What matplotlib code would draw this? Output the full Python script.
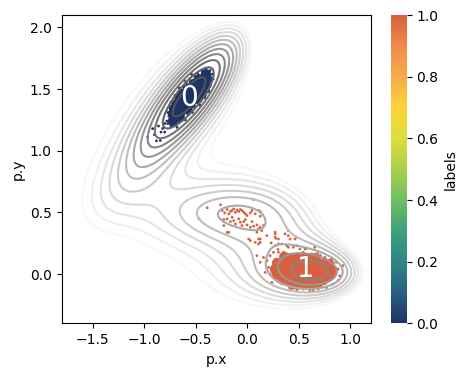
import numpy as np
import matplotlib.pyplot as plt
from matplotlib.colors import LinearSegmentedColormap

# Mueller-Brown potential parameters (background surface)
mb_A = [-200, -100, -170, 15]
mb_a = [-1, -1, -6.5, 0.7]
mb_b = [0, 0, 11, 0.6]
mb_c = [-10, -10, -6.5, 0.7]
mb_x0 = [1, 0, -0.5, -1]
mb_y0 = [0, 0.5, 1.5, 1]
contour_levels = [-137.5, -125, -112.5, -100, -87.5, -75, -62.5, -50, -37.5, -25, -12.5,
                  0, 12.5, 25]

# cluster 0 - dense core
core0 = [(-0.71, 1.27), (-0.72, 1.30), (-0.65, 1.30), (-0.71, 1.34), (-0.64, 1.34), (-0.58, 1.34),
         (-0.68, 1.38), (-0.61, 1.38), (-0.55, 1.38), (-0.655, 1.42), (-0.59, 1.42), (-0.54, 1.42),
         (-0.48, 1.42), (-0.62, 1.46), (-0.555, 1.46), (-0.50, 1.46), (-0.44, 1.46),
         (-0.575, 1.50), (-0.51, 1.50), (-0.455, 1.50), (-0.41, 1.50), (-0.52, 1.54), (-0.455, 1.54),
         (-0.39, 1.54), (-0.47, 1.58), (-0.39, 1.58), (-0.40, 1.62), (-0.66, 1.27), (-0.72, 1.24)]
# cluster 0 - rim and stray points
rim0 = [(-0.78, 1.24), (-0.76, 1.28), (-0.75, 1.31), (-0.73, 1.34), (-0.72, 1.37), (-0.70, 1.40),
        (-0.68, 1.43), (-0.67, 1.46), (-0.64, 1.49), (-0.62, 1.52), (-0.59, 1.55), (-0.56, 1.58),
        (-0.52, 1.61), (-0.48, 1.63), (-0.44, 1.65), (-0.40, 1.66), (-0.36, 1.65),
        (-0.74, 1.20), (-0.70, 1.21), (-0.66, 1.24), (-0.62, 1.27), (-0.58, 1.30), (-0.55, 1.33),
        (-0.51, 1.36), (-0.48, 1.39), (-0.45, 1.42), (-0.42, 1.45), (-0.40, 1.48), (-0.38, 1.51),
        (-0.36, 1.55), (-0.35, 1.59), (-0.34, 1.62),
        (-0.80, 1.22), (-0.77, 1.31), (-0.74, 1.39), (-0.70, 1.45), (-0.66, 1.51), (-0.61, 1.57),
        (-0.54, 1.62), (-0.46, 1.60), (-0.68, 1.19), (-0.60, 1.25), (-0.53, 1.31), (-0.46, 1.37),
        (-0.41, 1.43), (-0.37, 1.48), (-0.33, 1.58), (-0.77, 1.22), (-0.72, 1.23),
        (-0.917, 1.179), (-0.90, 1.13), (-0.88, 1.08), (-0.836, 1.151), (-0.843, 1.083),
        (-0.86, 1.20), (-0.82, 1.18), (-0.965, 1.11), (-0.80, 1.151)]

# cluster 1 - dense core
core1 = [(0.36, 0.14), (0.42, 0.13), (0.48, 0.13), (0.54, 0.13), (0.60, 0.13), (0.66, 0.13),
         (0.34, 0.085), (0.40, 0.085), (0.46, 0.085), (0.52, 0.085), (0.58, 0.085), (0.64, 0.085),
         (0.70, 0.085), (0.76, 0.085), (0.29, 0.09), (0.80, 0.08),
         (0.27, 0.04), (0.32, 0.04), (0.38, 0.04), (0.44, 0.04), (0.50, 0.04), (0.56, 0.04),
         (0.62, 0.04), (0.68, 0.04), (0.74, 0.04), (0.80, 0.04), (0.83, 0.03),
         (0.29, -0.005), (0.33, -0.005), (0.39, -0.005), (0.45, -0.005), (0.51, -0.005),
         (0.57, -0.005), (0.63, -0.005), (0.69, -0.005), (0.75, -0.005), (0.80, -0.01),
         (0.35, -0.05), (0.39, -0.05), (0.45, -0.05), (0.51, -0.05), (0.57, -0.05), (0.63, -0.05),
         (0.69, -0.05), (0.74, -0.05),
         (0.44, -0.085), (0.50, -0.085), (0.56, -0.085), (0.62, -0.085), (0.67, -0.08)]
# cluster 1 - rim, transition and shallow-well points
rim1 = [(0.095, 0.339), (0.111, 0.284), (0.127, 0.257), (0.272, 0.339), (0.272, 0.298),
        (0.368, 0.325), (0.400, 0.352), (0.416, 0.284), (0.481, 0.298), (0.304, 0.244),
        (0.384, 0.230), (0.448, 0.217), (0.513, 0.203), (0.577, 0.208), (0.657, 0.217),
        (0.689, 0.176), (0.754, 0.135), (0.818, 0.122), (0.866, 0.095), (0.882, 0.040),
        (0.898, -0.014), (0.882, -0.054), (0.834, -0.081), (0.770, -0.109), (0.689, -0.122),
        (0.609, -0.136), (0.545, -0.122), (0.465, -0.109), (0.400, -0.095), (0.336, -0.068),
        (0.272, -0.041), (0.224, 0.000), (0.208, 0.054), (0.192, 0.108), (0.224, 0.149),
        (0.256, 0.176), (0.127, 0.095), (0.159, 0.135), (0.175, 0.013), (0.240, -0.068),
        (0.818, -0.014), (0.850, 0.027), (0.930, 0.068), (0.641, -0.136), (0.481, -0.128),
        (0.416, -0.117), (0.352, 0.176), (0.545, 0.176), (0.625, 0.163), (0.737, 0.095),
        (0.786, 0.068), (0.28, 0.12), (0.26, 0.06), (0.27, -0.01), (0.30, -0.06), (0.84, 0.06),
        (0.83, 0.00), (0.80, -0.05), (0.71, 0.15), (0.30, 0.20), (0.72, -0.10),
        (0.272, 0.325), (0.304, 0.284), (0.400, 0.311), (0.464, 0.284), (0.031, 0.271),
        (0.111, 0.244), (0.272, 0.230), (0.336, 0.244), (0.400, 0.217), (0.480, 0.230),
        (0.561, 0.203), (0.095, 0.149), (0.304, 0.176), (-0.178, 0.338),
        (-0.387, 0.537), (-0.258, 0.561), (-0.242, 0.515), (-0.217, 0.496), (-0.194, 0.523),
        (-0.178, 0.488), (-0.162, 0.507), (-0.146, 0.515), (-0.130, 0.528), (-0.114, 0.501),
        (-0.098, 0.520), (-0.082, 0.507), (-0.066, 0.523), (-0.050, 0.515), (-0.033, 0.501),
        (-0.017, 0.488), (-0.001, 0.474), (0.031, 0.496), (0.047, 0.515), (0.063, 0.604),
        (0.079, 0.488), (0.111, 0.515), (0.127, 0.507), (0.127, 0.469), (-0.226, 0.442),
        (-0.194, 0.447), (-0.162, 0.425), (-0.146, 0.460), (-0.130, 0.433), (-0.114, 0.406),
        (-0.082, 0.447), (-0.066, 0.420), (-0.050, 0.393), (-0.033, 0.425), (-0.017, 0.442),
        (-0.001, 0.398), (0.031, 0.379), (0.047, 0.425), (0.063, 0.387), (0.095, 0.398),
        (0.111, 0.366), (0.127, 0.379), (0.143, 0.352), (0.159, 0.393), (-0.467, 0.447),
        (-0.226, 0.393), (-0.194, 0.338), (0.015, 0.284), (0.079, 0.257), (0.127, 0.284),
        (0.191, 0.311), (0.233, 0.252), (0.278, 0.290)]

# where the cluster numbers sit
center_x = [-0.56, 0.57]
center_y = [1.43, 0.04]
center_text = ['0', '1']

cbar_colors = ['#1f3466', '#2a5f84', '#2e8787', '#3fa07a', '#6fbf63', '#a8d04e',
               '#dede3c', '#fdd338', '#f9aa4b', '#f08c4a', '#d8603e']
cmap = LinearSegmentedColormap.from_list('labels_cmap', cbar_colors)


def mueller_brown(x, y):
    v = np.zeros_like(x)
    for A, a, b, c, x0, y0 in zip(mb_A, mb_a, mb_b, mb_c, mb_x0, mb_y0):
        v += A * np.exp(a * (x - x0) ** 2 + b * (x - x0) * (y - y0) + c * (y - y0) ** 2)
    return v


gx, gy = np.meshgrid(np.linspace(-1.8, 1.2, 300), np.linspace(-0.4, 2.1, 300))
V = mueller_brown(gx, gy)

fig = plt.figure(figsize=(4.67, 3.76), dpi=100)
ax = fig.add_axes([0.132, 0.140, 0.662, 0.820])
cax = fig.add_axes([0.837, 0.140, 0.034, 0.820])

c0 = np.array(core0)
r0 = np.array(rim0)
c1 = np.array(core1)
r1 = np.array(rim1)

# dense cores as bigger dots so they read as a filled blob
ax.scatter(c0[:, 0], c0[:, 1], c=np.zeros(len(c0)), cmap=cmap, vmin=0, vmax=1, s=55, linewidths=0, zorder=1)
ax.scatter(c1[:, 0], c1[:, 1], c=np.ones(len(c1)), cmap=cmap, vmin=0, vmax=1, s=55, linewidths=0, zorder=1)
pts = np.vstack([r0, r1])
lab = np.concatenate([np.zeros(len(r0)), np.ones(len(r1))])
sc = ax.scatter(pts[:, 0], pts[:, 1], c=lab, cmap=cmap, vmin=0, vmax=1, s=4, linewidths=0, zorder=1)

grey = plt.get_cmap('Greys_r')
lev_colors = [grey(min(1.0, 0.25 + 0.75 * (lv + 137.5) / 150.0)) for lv in contour_levels]
ax.contour(gx, gy, V, levels=contour_levels, colors=lev_colors, linewidths=1.5, zorder=2)

for cx, cy, t in zip(center_x, center_y, center_text):
    ax.text(cx, cy, t, color='white', fontsize=20, ha='center', va='center', zorder=3)

ax.set_xlim(-1.8, 1.2)
ax.set_ylim(-0.4, 2.1)
ax.set_xlabel('p.x')
ax.set_ylabel('p.y')

cb = fig.colorbar(sc, cax=cax)
cb.set_label('labels')
cb.outline.set_visible(False)

fig.savefig('out.png', dpi=100)
